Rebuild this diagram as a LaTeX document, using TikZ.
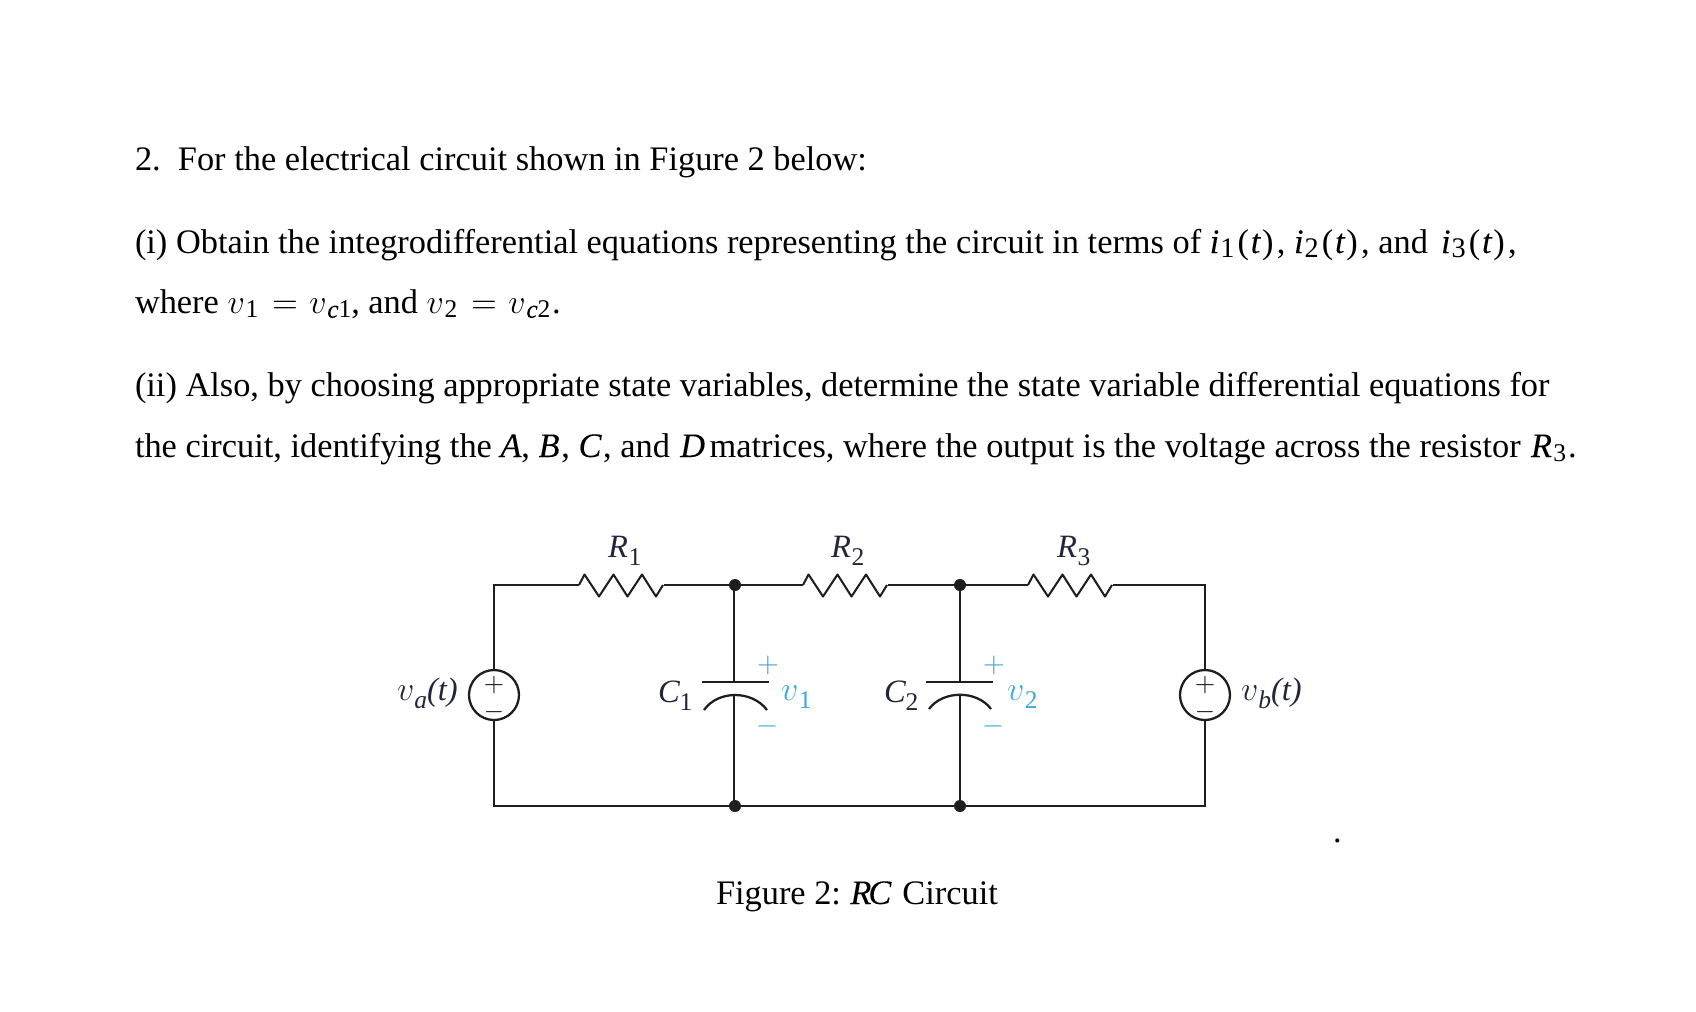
\documentclass[tikz,border=0pt]{standalone}
\usepackage{fontspec}
\setmainfont{Liberation Serif}
\newfontfamily\mif[ItalicFeatures={FakeBold=0.05}]{Liberation Serif}
\newlength{\pxu}\setlength{\pxu}{0.353pt}
\definecolor{wire}{HTML}{1E1E1E}
\definecolor{lab}{HTML}{23263A}
\definecolor{volt}{HTML}{3FA9DC}
\newcommand{\mv}[1]{{\mif\itshape #1}}
\newcommand{\ms}[1]{\raisebox{-0.3ex}{\fontsize{9}{10}\selectfont #1}}
\newcommand{\msi}[1]{\raisebox{-0.3ex}{\fontsize{9}{10}\selectfont\mif\itshape #1}}
\newcommand{\vv}{$v$\kern0.02em}
\newcommand{\ifn}[1]{\mv{i}\kern0.03em\raisebox{-0.3ex}{\fontsize{10}{11}\selectfont #1}\kern0.09em(\kern0.05em\mv{t}\kern0.05em)\kern0.1em}
\newcommand{\cs}[1]{\raisebox{-8\pxu}{\fontsize{9}{10}\selectfont\upshape #1}}
\newcommand{\csi}[1]{\raisebox{-8\pxu}{\fontsize{9}{10}\selectfont\itshape #1}}
\tikzset{
  x=\pxu,y=-\pxu,
  txt/.style={anchor=base west,inner sep=0pt,outer sep=0pt,font=\fontsize{12.13}{14}\selectfont,text=black},
  clab/.style={anchor=base west,inner sep=0pt,outer sep=0pt,font=\fontsize{11.5}{13}\selectfont,text=lab},
  vlab/.style={anchor=base west,inner sep=0pt,outer sep=0pt,font=\fontsize{11.5}{13}\selectfont,text=volt},
  sgn/.style={inner sep=0pt,outer sep=0pt,font=\fontsize{10}{12}\selectfont,text=volt},
  ssgn/.style={inner sep=0pt,outer sep=0pt,font=\fontsize{9}{10}\selectfont,text=wire},
  wireline/.style={draw=wire,line width=0.72pt},
  plate/.style={draw=wire,line width=0.8pt},
  dotnode/.style={circle,fill=wire,draw=none,minimum size=12\pxu,inner sep=0pt},
  srcnode/.style={circle,draw=wire,line width=0.8pt,fill=white,minimum size=50\pxu,inner sep=0pt},
}
\newcommand{\zig}{-- ++(5.5,-10.5) -- ++(14.5,22) -- ++(14.5,-22) -- ++(14,22) -- ++(14.5,-22) -- ++(14,22) -- ++(7,-11.5)}
\begin{document}
\begin{tikzpicture}
\useasboundingbox (0,0) rectangle (1696,1011);
\fill[white] (0,0) rectangle (1696,1011);
% text
\node[txt] (l1) at (135,170) {2.\ \ For the electrical circuit shown in Figure 2 below:};
\node[txt] (l2) at (135,253) {(i) Obtain the integrodifferential equations representing the circuit in terms of \ifn{1}, \ifn{2}, and\kern0.13em{} \ifn{3},};
\node[txt] (l3) at (135,313) {where \vv\ms{1}\kern0.4em$=$\kern0.33em\vv\msi{c}\ms{1}, and \vv\ms{2}\kern0.4em$=$\kern0.33em\vv\msi{c}\ms{2}\kern0.05em.};
\node[txt] (l4) at (135,396) {(ii) Also, by choosing appropriate state variables, determine the state variable differential equations for};
\node[txt] (l5) at (135,457) {the circuit, identifying the \mv{A}, \mv{B}\kern0.05em, \mv{C}\kern0.05em, and \kern0.05em\mv{D}\kern-0.12em{} matrices, where the output is the voltage across the resistor \kern0.05em\mv{R}\kern0.04em\ms{3}\kern0.06em.};
\node[txt] (cap) at (716,904) {Figure 2:\kern-0.06em{} \mv{R\kern-0.09em C}\kern0.075em{} Circuit};
\node[txt] (dot) at (1333,842) {.};
% junctions and sources
\node[dotnode] (n1) at (735,585) {};
\node[dotnode] (n2) at (960,585) {};
\node[dotnode] (g1) at (735,806) {};
\node[dotnode] (g2) at (960,806) {};
\node[srcnode] (sa) at (494,695) {};
\node[srcnode] (sb) at (1205,695) {};
\coordinate (tl) at (494,585);
\coordinate (bl) at (494,806);
\coordinate (tr) at (1205,585);
\coordinate (br) at (1205,806);
\coordinate (r1a) at (579,585);
\coordinate (r1b) at (664,585);
\coordinate (r2a) at (803,585);
\coordinate (r2b) at (888,585);
\coordinate (r3a) at (1028,585);
\coordinate (r3b) at (1113,585);
\coordinate (c1t) at (734,682);
\coordinate (c1b) at (734,694);
\coordinate (c2t) at (960,682);
\coordinate (c2b) at (960,694);
% wires
\draw[wireline,line join=miter] (sa.north) -- (tl) -- (r1a);
\draw[wireline] (r1b) -- (n1.center) -- (r2a);
\draw[wireline] (r2b) -- (n2.center) -- (r3a);
\draw[wireline,line join=miter] (r3b) -- (tr) -- (sb.north);
\draw[wireline,line join=miter] (sa.south) -- (bl) -- (br) -- (sb.south);
\draw[wireline,line join=round] (r1a) \zig;
\draw[wireline,line join=round] (r2a) \zig;
\draw[wireline,line join=round] (r3a) \zig;
\draw[wireline] (c1t |- n1.center) -- (c1t);
\draw[wireline] (c1b) -- (c1b |- g1.center);
\draw[wireline] (n2.center) -- (c2t);
\draw[wireline] (c2b) -- (g2.center);
% capacitors
\draw[plate] (702,682) -- (769,682);
\draw[plate] (704,710) .. controls (718,690) and (752,690) .. (767,710);
\draw[plate] (926,682) -- (993,682);
\draw[plate] (929,709) .. controls (943,690) and (977,690) .. (991,709);
% source signs
\node[ssgn] (sap) at (494,685) {$+$};
\node[ssgn] (sam) at (494,712) {$-$};
\node[ssgn] (sbp) at (1205,685) {$+$};
\node[ssgn] (sbm) at (1205,712) {$-$};
% labels
\node[clab] (lr1) at (608,557) {\itshape R\kern0.02em\cs{1}};
\node[clab] (lr2) at (831,557) {\itshape R\kern0.02em\cs{2}};
\node[clab] (lr3) at (1057,557) {\itshape R\kern0.02em\cs{3}};
\node[clab] (lc1) at (658,702) {\itshape C\cs{1}};
\node[clab] (lc2) at (884,702) {\itshape C\cs{2}};
\node[clab] (lva) at (397,700) {$v$\csi{a}\itshape(t)};
\node[clab] (lvb) at (1241,700) {$v$\csi{b}\itshape(t)};
\node[vlab] (lv1) at (781,700) {$v$\kern0.02em\cs{1}};
\node[vlab] (lv2) at (1007,700) {$v$\kern0.02em\cs{2}};
\node[sgn] (p1) at (768,665) {$+$};
\node[sgn] (m1) at (768,726) {$-$};
\node[sgn] (p2) at (994,665) {$+$};
\node[sgn] (m2) at (994,726) {$-$};
\end{tikzpicture}
\end{document}
